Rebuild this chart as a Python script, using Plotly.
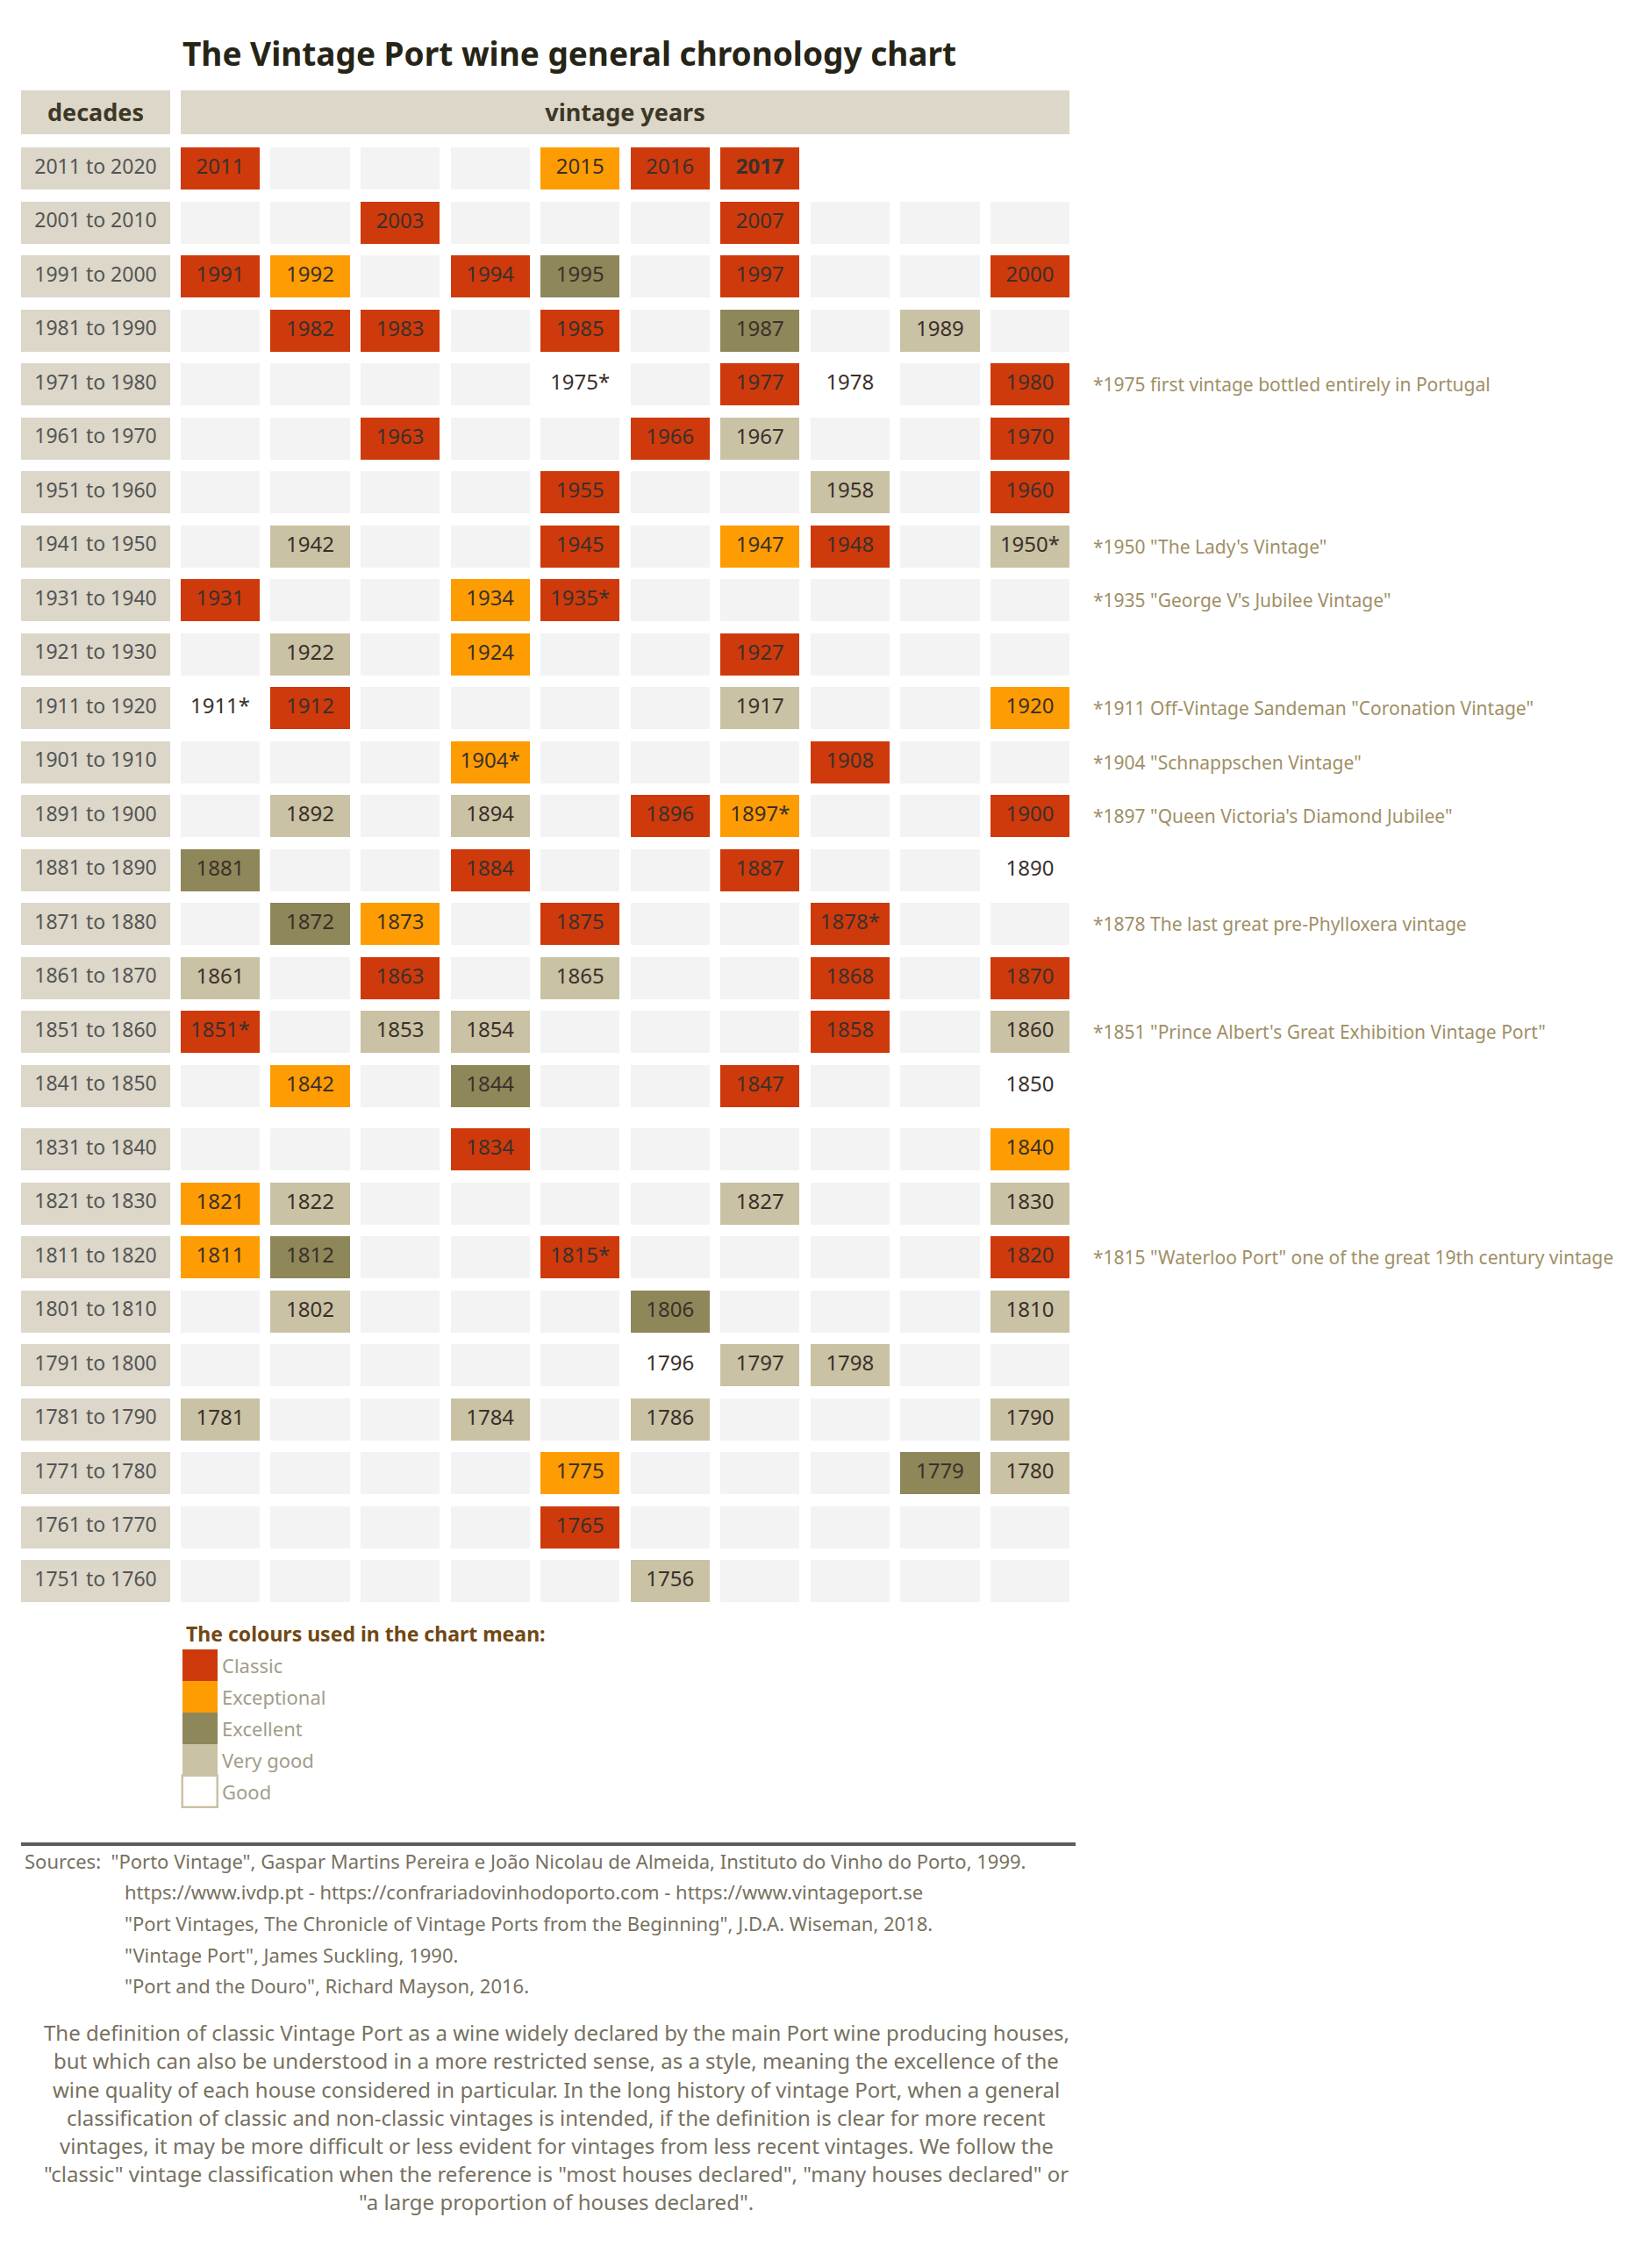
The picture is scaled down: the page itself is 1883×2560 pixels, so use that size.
import plotly.graph_objects as go

W, H = 1883, 2560

# ---------------- data ----------------
decade_starts = [2011, 2001, 1991, 1981, 1971, 1961, 1951, 1941, 1931, 1921, 1911,
                 1901, 1891, 1881, 1871, 1861, 1851, 1841, 1831, 1821, 1811, 1801,
                 1791, 1781, 1771, 1761, 1751]

classic_years = [2011, 2016, 2017, 2003, 2007, 1991, 1994, 1997, 2000, 1982, 1983,
                 1985, 1977, 1980, 1963, 1966, 1970, 1955, 1960, 1945, 1948, 1931,
                 1935, 1927, 1912, 1908, 1896, 1900, 1884, 1887, 1875, 1878, 1863,
                 1868, 1870, 1851, 1858, 1847, 1834, 1815, 1820, 1765]
exceptional_years = [2015, 1992, 1947, 1934, 1924, 1920, 1904, 1897, 1873, 1842,
                     1840, 1821, 1811, 1775]
excellent_years = [1995, 1987, 1881, 1872, 1844, 1812, 1806, 1779]
very_good_years = [1989, 1967, 1958, 1942, 1950, 1922, 1917, 1892, 1894, 1861, 1865,
                   1853, 1854, 1860, 1822, 1827, 1830, 1802, 1810, 1797, 1798, 1781,
                   1784, 1786, 1790, 1780, 1756]
good_years = [1975, 1978, 1911, 1890, 1850, 1796]

starred_years = [1975, 1950, 1935, 1911, 1904, 1897, 1878, 1851, 1815]
bold_years = [2017]
last_rated_year = 2017

note_years = [1975, 1950, 1935, 1911, 1904, 1897, 1878, 1851, 1815]
note_texts = [
    "*1975 first vintage bottled entirely in Portugal",
    "*1950 \"The Lady's Vintage\"",
    "*1935 \"George V's Jubilee Vintage\"",
    "*1911 Off-Vintage Sandeman \"Coronation Vintage\"",
    "*1904 \"Schnappschen Vintage\"",
    "*1897 \"Queen Victoria's Diamond Jubilee\"",
    "*1878 The last great pre-Phylloxera vintage",
    "*1851 \"Prince Albert's Great Exhibition Vintage Port\"",
    "*1815 \"Waterloo Port\" one of the great 19th century vintage",
]

categories = ["Classic", "Exceptional", "Excellent", "Very good", "Good"]
category_colors = ["#CE3A0C", "#FD9D03", "#8E8759", "#C9C2A4", "#FFFFFF"]
empty_color = "#F3F3F3"
label_box_color = "#DCD7C9"

title_text = "The Vintage Port wine general chronology chart"
legend_title = "The colours used in the chart mean:"
sources_lines = [
    "Sources:  \"Porto Vintage\", Gaspar Martins Pereira e João Nicolau de Almeida, Instituto do Vinho do Porto, 1999.",
    "https://www.ivdp.pt - https://confrariadovinhodoporto.com - https://www.vintageport.se",
    "\"Port Vintages, The Chronicle of Vintage Ports from the Beginning\", J.D.A. Wiseman, 2018.",
    "\"Vintage Port\", James Suckling, 1990.",
    "\"Port and the Douro\", Richard Mayson, 2016.",
]
paragraph_lines = [
    "The definition of classic Vintage Port as a wine widely declared by the main Port wine producing houses,",
    "but which can also be understood in a more restricted sense, as a style, meaning the excellence of the",
    "wine quality of each house considered in particular. In the long history of vintage Port, when a general",
    "classification of classic and non-classic vintages is intended, if the definition is clear for more recent",
    "vintages, it may be more difficult or less evident for vintages from less recent vintages. We follow the",
    "\"classic\" vintage classification when the reference is \"most houses declared\", \"many houses declared\" or",
    "\"a large proportion of houses declared\".",
]

# ---------------- layout constants (pixels) ----------------
COL0_PX = 251
COL_PITCH = 102.55
ROW0_PX = 192
ROW_PITCH = 61.5
LOWER_BLOCK_START = 1831
LOWER_GAP_PX = 11
CELL_W = 0.88
CELL_H = 48 / ROW_PITCH
FONT = "Noto Sans"


def ux(px):
    return (px - COL0_PX) / COL_PITCH


def uy(px):
    return (px - ROW0_PX) / ROW_PITCH


year_category = {}
for cat, yrs in zip(categories, [classic_years, exceptional_years, excellent_years,
                                 very_good_years, good_years]):
    for yv in yrs:
        year_category[yv] = cat

row_pos = []
for i, s in enumerate(decade_starts):
    extra = LOWER_GAP_PX / ROW_PITCH if s <= LOWER_BLOCK_START else 0
    row_pos.append(i + extra)

cell_x, cell_base, cell_color = [], [], []
txt_x, txt_y, txt = [], [], []
for s, r in zip(decade_starts, row_pos):
    for c in range(10):
        year = s + c
        if year > last_rated_year:
            continue
        cat = year_category.get(year)
        cell_x.append(c)
        cell_base.append(r - CELL_H / 2)
        cell_color.append(category_colors[categories.index(cat)] if cat else empty_color)
        if cat:
            label = str(year) + ("*" if year in starred_years else "")
            if year in bold_years:
                label = "<b>" + label + "</b>"
            txt_x.append(c)
            txt_y.append(r)
            txt.append(label)

fig = go.Figure()

# header boxes
HDR_Y = uy(128)
HDR_H = 50 / ROW_PITCH
DEC_X = ux(109)
DEC_W = 170 / COL_PITCH
fig.add_trace(go.Bar(
    x=[DEC_X, 4.5], y=[HDR_H, HDR_H], base=[HDR_Y - HDR_H / 2] * 2,
    width=[DEC_W, 9 + CELL_W], marker=dict(color=label_box_color, line=dict(width=0)),
    hoverinfo="skip", showlegend=False))
fig.add_trace(go.Scatter(
    x=[DEC_X, 4.5], y=[uy(131), uy(131)], mode="text", text=["decades", "vintage years"],
    textposition="middle center",
    textfont=dict(family=FONT, size=27, color="#3d3826", weight="bold"),
    hoverinfo="skip", showlegend=False))

# decade label boxes
fig.add_trace(go.Bar(
    x=[DEC_X] * len(decade_starts), y=[CELL_H] * len(decade_starts),
    base=[r - CELL_H / 2 for r in row_pos], width=DEC_W,
    marker=dict(color=label_box_color, line=dict(width=0)),
    hoverinfo="skip", showlegend=False))
fig.add_trace(go.Scatter(
    x=[DEC_X] * len(decade_starts), y=row_pos, mode="text",
    text=[f"{s} to {s + 9}" for s in decade_starts], textposition="middle center",
    textfont=dict(family=FONT, size=23, color="#545454"),
    hoverinfo="skip", showlegend=False))

# vintage cells
fig.add_trace(go.Bar(
    x=cell_x, y=[CELL_H] * len(cell_x), base=cell_base, width=CELL_W,
    marker=dict(color=cell_color, line=dict(width=0)),
    hoverinfo="skip", showlegend=False))
fig.add_trace(go.Scatter(
    x=txt_x, y=txt_y, mode="text", text=txt, textposition="middle center",
    textfont=dict(family=FONT, size=24, color="#3b302b"),
    hoverinfo="skip", showlegend=False))

annotations = []

# notes
for yv, t in zip(note_years, note_texts):
    s = yv - ((yv - 1) % 10)
    r = row_pos[decade_starts.index(s)]
    annotations.append(dict(x=ux(1244), y=r, xref="x", yref="y", text=t, showarrow=False,
                            xanchor="left", yanchor="middle",
                            font=dict(family=FONT, size=21, color="#A08F66")))

# title
annotations.append(dict(x=ux(649), y=uy(60), xref="x", yref="y", text=title_text,
                        showarrow=False, xanchor="center", yanchor="middle",
                        font=dict(family=FONT, size=37, color="#262416", weight="bold")))

# legend
LEG_TOP = 1880
LEG_STEP = 36
fig.add_trace(go.Bar(
    x=[ux(228)] * len(categories), y=[LEG_STEP / ROW_PITCH] * len(categories),
    base=[uy(LEG_TOP + LEG_STEP * i) for i in range(len(categories))],
    width=40 / COL_PITCH,
    marker=dict(color=category_colors,
                line=dict(color="#C9C2A4", width=[0, 0, 0, 0, 2.5])),
    hoverinfo="skip", showlegend=False))
for i, cat in enumerate(categories):
    annotations.append(dict(x=ux(251), y=uy(LEG_TOP + LEG_STEP * i + 18), xref="x", yref="y",
                            text=cat, showarrow=False, xanchor="left", yanchor="middle",
                            font=dict(family=FONT, size=22, color="#A39D8A")))
annotations.append(dict(x=ux(210), y=uy(1862), xref="x", yref="y", text=legend_title,
                        showarrow=False, xanchor="left", yanchor="middle",
                        font=dict(family=FONT, size=23, color="#714813", weight="bold")))

# sources
src_y = [2121, 2156, 2192, 2228, 2263]
src_x = [26, 140, 140, 140, 140]
for t, sx, sy in zip(sources_lines, src_x, src_y):
    annotations.append(dict(x=ux(sx), y=uy(sy), xref="x", yref="y", text=t, showarrow=False,
                            xanchor="left", yanchor="middle",
                            font=dict(family=FONT, size=22, color="#77715f")))

# paragraph
par_y = [2316, 2348, 2381, 2413, 2445, 2477, 2509]
for t, py in zip(paragraph_lines, par_y):
    annotations.append(dict(x=ux(634), y=uy(py), xref="x", yref="y", text=t, showarrow=False,
                            xanchor="center", yanchor="middle",
                            font=dict(family=FONT, size=24, color="#77715f")))

shapes = [dict(type="line", xref="x", yref="y", x0=ux(24), x1=ux(1226),
               y0=uy(2102), y1=uy(2102), line=dict(color="#5c5c5c", width=4))]

fig.update_layout(
    width=W, height=H, autosize=False,
    margin=dict(l=0, r=0, t=0, b=0, pad=0),
    paper_bgcolor="white", plot_bgcolor="white",
    barmode="overlay", bargap=0,
    xaxis=dict(range=[ux(0), ux(W)], visible=False, fixedrange=True),
    yaxis=dict(range=[uy(H), uy(0)], visible=False, fixedrange=True),
    annotations=annotations, shapes=shapes,
    showlegend=False,
)

fig.write_html("out.html")
